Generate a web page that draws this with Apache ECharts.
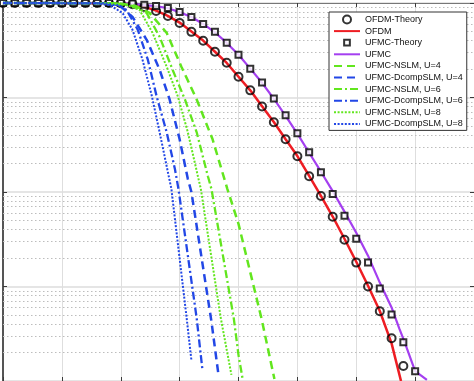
<!DOCTYPE html>
<html>
<head>
<meta charset="utf-8">
<script src="https://cdn.jsdelivr.net/npm/echarts@6/dist/echarts.min.js"></script>
<style>html,body{margin:0;padding:0;background:#fff;}#c{width:474px;height:381px;}</style>
</head>
<body>
<div id="c"></div>
<script>
// ---- data (PAPR0 in dB, CCDF) ----
const xMin = 4, xMax = 12, xStep = 1;
const yMin = 0.0001, yMax = 1;
const seriesNames = ['OFDM-Theory','OFDM','UFMC-Theory','UFMC','UFMC-NSLM, U=4','UFMC-DcompSLM, U=4','UFMC-NSLM, U=6','UFMC-DcompSLM, U=6','UFMC-NSLM, U=8','UFMC-DcompSLM, U=8'];

const theoryX = [4.0,4.2,4.4,4.6,4.8,5.0,5.2,5.4,5.6,5.8,6.0,6.2,6.4,6.6,6.8,7.0,7.2,7.4,7.6,7.8,8.0,8.2,8.4,8.6,8.8,9.0,9.2,9.4,9.6,9.8,10.0,10.2,10.4,10.6,10.8,11.0];
const ofdmTheory = [1,1,1,1,1,1,1,1,1,1,0.995,0.97,0.908,0.824,0.73,0.616,0.495,0.398,0.305,0.233,0.166,0.119,0.0804,0.0546,0.0361,0.0239,0.0147,0.00908,0.00546,0.00313,0.00179,0.001,0.000546,0.000284,0.000144,null];
const ufmcTheory = [1,1,1,1,1,1,1,1,1,1,1,0.985,0.96,0.93,0.886,0.804,0.712,0.601,0.495,0.379,0.284,0.202,0.144,0.0976,0.0647,0.0418,0.0264,0.0162,0.00953,0.00559,0.0032,0.00179,0.000953,0.000507,0.000257,0.000127];

const ofdmSim = [[4,1],[6.0,0.995],[6.2,0.97],[6.4,0.91],[6.6,0.83],[6.8,0.73],[7.0,0.62],[7.2,0.5],[7.4,0.4],[7.6,0.305],[7.8,0.232],[8.0,0.166],[8.2,0.119],[8.4,0.081],[8.6,0.055],[8.8,0.0362],[9.0,0.024],[9.2,0.0148],[9.4,0.0091],[9.6,0.0055],[9.8,0.0032],[10.0,0.00183],[10.2,0.00102],[10.4,0.00055],[10.6,0.00025],[10.76,0.0001]];
const ufmcSim = [[4,1],[6.0,0.997],[6.2,0.978],[6.4,0.95],[6.6,0.925],[6.8,0.88],[7.0,0.8],[7.2,0.71],[7.4,0.6],[7.6,0.49],[7.8,0.378],[8.0,0.283],[8.2,0.202],[8.4,0.143],[8.6,0.097],[8.8,0.064],[9.0,0.0415],[9.2,0.026],[9.4,0.0164],[9.6,0.0102],[9.8,0.0062],[10.0,0.0037],[10.2,0.00212],[10.4,0.0011],[10.6,0.0006],[10.73,0.00036],[10.82,0.00026],[11.0,0.000127],[11.2,0.000103]];

const nslmU4 = [[4,1],[5.95,0.995],[6.25,0.93],[6.49,0.785],[6.78,0.483],[7.03,0.212],[7.29,0.0953],[7.56,0.0361],[7.81,0.0108],[8.0,0.0046],[8.39,0.00046],[8.61,0.000105]];
const dcompU4 = [[4,1],[5.75,0.995],[6.0,0.92],[6.2,0.712],[6.44,0.408],[6.66,0.197],[6.83,0.0953],[7.0,0.0361],[7.14,0.0137],[7.2,0.01],[7.54,0.000428],[7.66,0.000116]];
const nslmU6 = [[4,1],[5.9,0.995],[6.2,0.93],[6.44,0.785],[6.66,0.439],[6.88,0.197],[7.09,0.0953],[7.29,0.0428],[7.48,0.0147],[7.54,0.0108],[7.92,0.00046],[8.0,0.000188],[8.07,0.000105]];
const dcompU6 = [[4,1],[5.7,0.995],[5.95,0.95],[6.1,0.844],[6.29,0.52],[6.46,0.251],[6.61,0.1025],[6.78,0.0429],[6.92,0.0175],[6.98,0.0108],[7.29,0.00046],[7.39,0.000127]];
const nslmU8 = [[4,1],[5.8,0.995],[6.1,0.95],[6.32,0.844],[6.54,0.483],[6.78,0.212],[6.97,0.1025],[7.14,0.0428],[7.31,0.0147],[7.36,0.0108],[7.7,0.00046],[7.88,0.000116]];
const dcompU8 = [[4,1],[5.6,0.995],[5.81,0.953],[6.03,0.785],[6.2,0.52],[6.37,0.251],[6.53,0.1025],[6.66,0.0429],[6.8,0.0163],[6.86,0.0108],[7.12,0.00046],[7.2,0.000166]];

const minorGridVals = [];
[0.0001,0.001,0.01,0.1].forEach(d => { for (let k = 2; k <= 9; k++) minorGridVals.push(+(k*d).toPrecision(3)); });

// ---- styles ----
const RED = '#ee1d23', PURPLE = '#a43ff0', GREEN = '#62e61e', BLUE = '#2247e6';
const DASH = [8,5], DASHDOT = [8,3,2,3], DOT = [2,1.6];
const AX = '#3a3a3a';

const chart = echarts.init(document.getElementById('c'), null, {renderer:'canvas'});

function simLine(name, data, color, width, type, z) {
  return {name, type:'line', data, symbol:'none', showSymbol:false, clip:false, z,
    lineStyle:{color, width, type}, itemStyle:{color}, emphasis:{disabled:true}, animation:false};
}

const legendData = seriesNames.map(n => {
  if (n === 'OFDM-Theory') return {name:n};
  if (n === 'UFMC-Theory') return {name:n, icon:'path://M-2,-2M0,0L10,0L10,10L0,10ZM12,12'};
  return {name:n, itemStyle:{opacity:0}};
});

const option = {
  animation:false,
  backgroundColor:'#fff',
  grid:{left:3, top:3, right:-1, bottom:-2, containLabel:false},
  xAxis:[
    {type:'value', min:xMin, max:xMax, interval:xStep, position:'bottom',
     axisLine:{show:true, lineStyle:{color:AX, width:1}}, axisTick:{show:true, inside:true, length:4, lineStyle:{color:AX}},
     axisLabel:{show:false}, splitLine:{show:true, lineStyle:{color:'#dedede', width:1}}},
    {type:'value', min:xMin, max:xMax, interval:xStep, position:'top',
     axisLine:{show:true, onZero:false, lineStyle:{color:'#777', width:1}}, axisTick:{show:true, inside:true, length:4, lineStyle:{color:AX}},
     axisLabel:{show:false}, splitLine:{show:false}}
  ],
  yAxis:[
    {type:'log', logBase:10, min:yMin, max:yMax, position:'left',
     axisLine:{show:true, onZero:false, lineStyle:{color:'#555', width:2}}, axisTick:{show:true, inside:true, length:4, lineStyle:{color:AX}},
     axisLabel:{show:false}, splitLine:{show:true, lineStyle:{color:'#dcdcdc', width:1.5}}},
    {type:'log', logBase:10, min:yMin, max:yMax, position:'right',
     axisLine:{show:true, onZero:false, lineStyle:{color:AX, width:1}}, axisTick:{show:true, inside:true, length:4, lineStyle:{color:AX}},
     axisLabel:{show:false}, splitLine:{show:false}}
  ],
  legend:{
    data:legendData, orient:'vertical', left:329, top:12,
    itemWidth:26, itemHeight:8, itemGap:0.6,
    padding:[2,4,1,4], symbolKeepAspect:true,
    backgroundColor:'#fff', borderColor:'#333', borderWidth:1,
    textStyle:{fontFamily:'Liberation Sans, Arial, sans-serif', fontSize:9, color:'#111', lineHeight:11},
    selectedMode:false
  },
  series:[
    {name:'minor-grid', type:'lines', coordinateSystem:'cartesian2d', silent:true, z:1,
     polyline:false, symbol:'none', animation:false,
     lineStyle:{color:'#bdbdbd', width:1, type:[1.5,2.5], opacity:1},
     data:minorGridVals.map(v => ({coords:[[xMin, v],[xMax, v]]}))},
    {name:'OFDM-Theory', type:'scatter', data:theoryX.map((x,i)=>[x, ofdmTheory[i]]).filter(p=>p[1]!==null),
     symbol:'circle', symbolSize:8, symbolKeepAspect:true, clip:false, z:3,
     itemStyle:{color:'rgba(0,0,0,0)', borderColor:'#000', borderWidth:2}},
    simLine('OFDM', ofdmSim, RED, 2.5, 'solid', 3),
    {name:'UFMC-Theory', type:'scatter', data:theoryX.map((x,i)=>[x, ufmcTheory[i]]).filter(p=>p[1]!==null),
     symbol:'rect', symbolSize:6, symbolKeepAspect:true, clip:false, z:3,
     itemStyle:{color:'#fff', borderColor:'#000', borderWidth:2}},
    simLine('UFMC', ufmcSim, PURPLE, 2.2, 'solid', 3),
    simLine('UFMC-NSLM, U=4', nslmU4, GREEN, 2.5, DASH, 4),
    simLine('UFMC-DcompSLM, U=4', dcompU4, BLUE, 2.5, DASH, 4),
    simLine('UFMC-NSLM, U=6', nslmU6, GREEN, 2.3, DASHDOT, 4),
    simLine('UFMC-DcompSLM, U=6', dcompU6, BLUE, 2.3, DASHDOT, 4),
    simLine('UFMC-NSLM, U=8', nslmU8, GREEN, 2, DOT, 4),
    simLine('UFMC-DcompSLM, U=8', dcompU8, BLUE, 2, DOT, 4)
  ]
};
chart.setOption(option);
</script>
</body>
</html>
